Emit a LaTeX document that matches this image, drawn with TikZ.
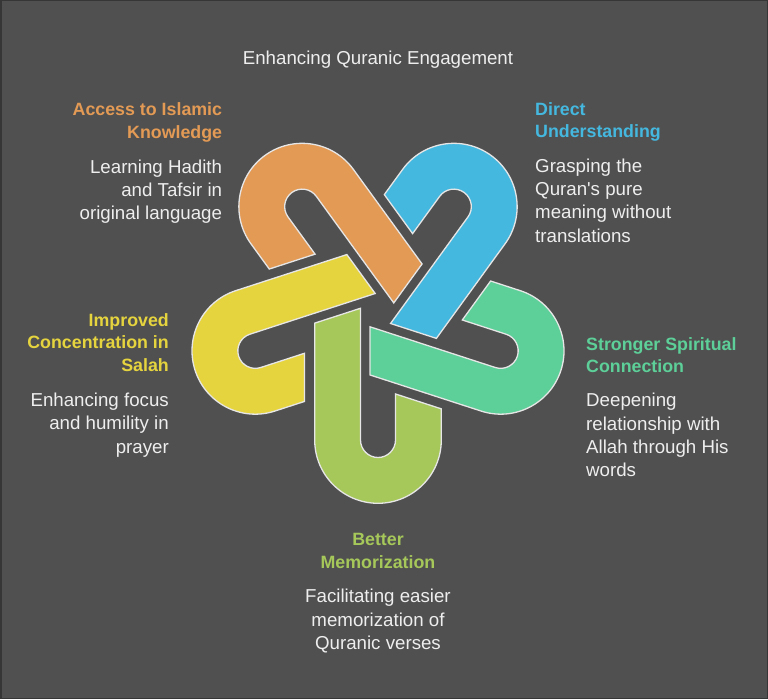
\documentclass[tikz,border=0pt]{standalone}
\usepackage{fontspec}
\setmainfont{Liberation Sans}[Ligatures=TeXOff]
\definecolor{bg}{HTML}{505050}
\definecolor{frame}{HTML}{363636}
\definecolor{loopline}{HTML}{E6E6E6}
\definecolor{txt}{HTML}{EEEEEE}
\definecolor{cLime}{HTML}{A6C75A}
\definecolor{cGreen}{HTML}{5DCF98}
\definecolor{cBlue}{HTML}{45B8DF}
\definecolor{cOrange}{HTML}{E39A55}
\definecolor{cYellow}{HTML}{E6D43F}
\tikzset{
  loopshape/.style={draw=loopline, line width=1.3pt, line join=miter},
  headtext/.style={inner sep=0pt, font=\bfseries\fontsize{17.8}{22.3}\selectfont},
  bodytext/.style={inner sep=0pt, text=txt, font=\fontsize{18.7}{23.3}\selectfont},
}
\begin{document}
\begin{tikzpicture}[x=1pt,y=1pt]
\useasboundingbox (0,0) rectangle (768,699);
\fill[bg] (0,0) rectangle (768,699);
\draw[frame, line width=1.5pt] (0.75,0.75) rectangle (767.25,698.25);

% five interlaced hairpins
\foreach \ang/\col in {0/cLime,72/cGreen,144/cBlue,216/cOrange,288/cYellow}{
  \begin{scope}[shift={(378,388)}, rotate=\ang]
    \path[loopshape, fill=\col]
      (-63.3,-12.156) -- (-63.3,-129)
      arc[start angle=180, end angle=360, radius=63.3]
      -- (63.3,-97.850) -- (17.5,-82.969) -- (17.5,-129)
      arc[start angle=0, end angle=-180, radius=17.5]
      -- (-17.5,2.726) -- cycle;
  \end{scope}
}

% title
\node[bodytext, anchor=base] (title) at (378,634) {Enhancing Quranic Engagement};

% orange
\node[headtext, text=cOrange, anchor=base east, align=right] (h1) at (222.3,560.7) {Access to Islamic\\Knowledge};
\node[bodytext, anchor=base east, align=right] (b1) at (222.3,479.1) {Learning Hadith\\and Tafsir in\\original language};

% blue
\node[headtext, text=cBlue, anchor=base west, align=left] (h2) at (535,561) {Direct\\Understanding};
\node[bodytext, anchor=base west, align=left] (b2) at (535,456.8) {Grasping the\\Quran's pure\\meaning without\\translations};

% yellow
\node[headtext, text=cYellow, anchor=base east, align=right] (h3) at (169,327.7) {Improved\\Concentration in\\Salah};
\node[bodytext, anchor=base east, align=right] (b3) at (169,245.7) {Enhancing focus\\and humility in\\prayer};

% green
\node[headtext, text=cGreen, anchor=base west, align=left] (h4) at (586,326) {Stronger Spiritual\\Connection};
\node[bodytext, anchor=base west, align=left] (b4) at (586,222.1) {Deepening\\relationship with\\Allah through His\\words};

% lime
\node[headtext, text=cLime, anchor=base, align=center] (h5) at (378,131) {Better\\Memorization};
\node[bodytext, anchor=base, align=center] (b5) at (378,49.7) {Facilitating easier\\memorization of\\Quranic verses};
\end{tikzpicture}
\end{document}
